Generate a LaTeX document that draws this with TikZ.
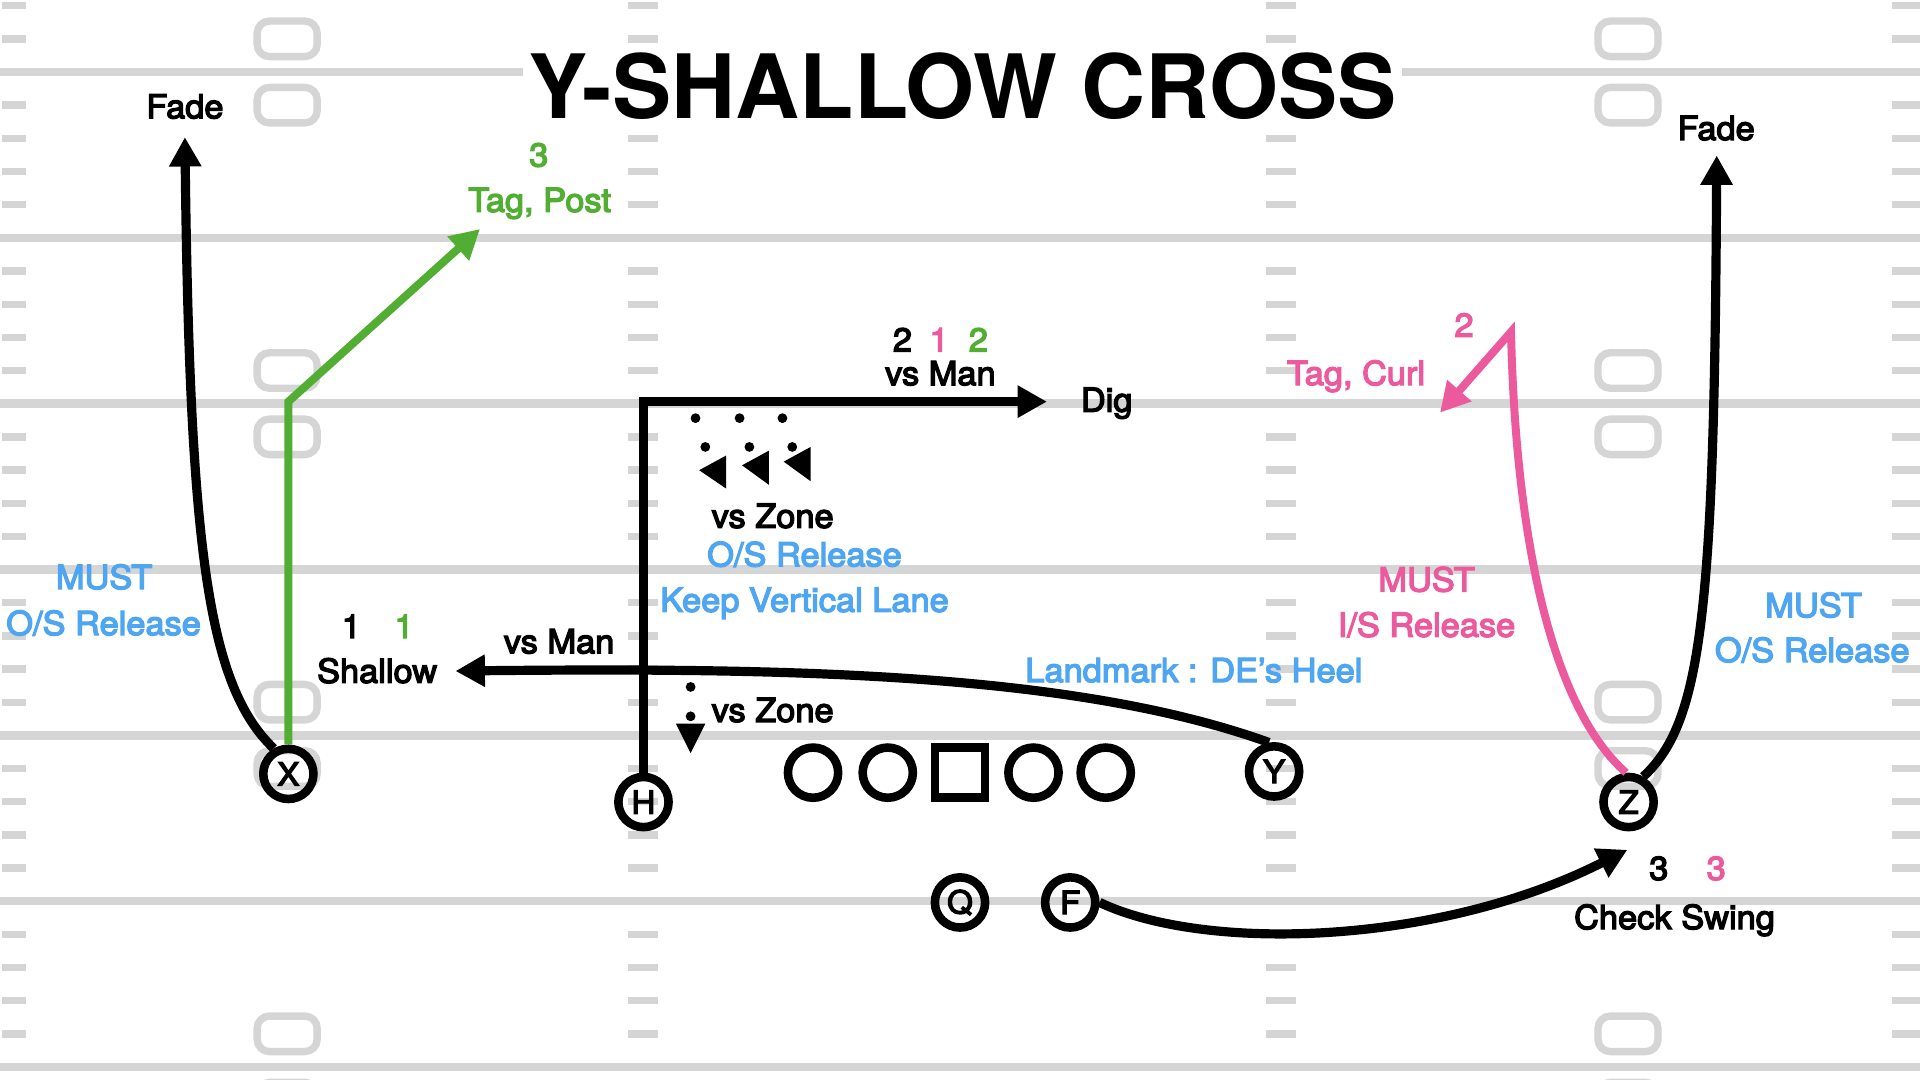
\documentclass[tikz,border=0pt]{standalone}
\usepackage{fontspec}
\setmainfont{TeX Gyre Heros}
\newfontfamily\lblfont{TeX Gyre Heros}[FakeBold=4,FakeStretch=1.04]
\usetikzlibrary{arrows.meta}
\definecolor{fieldgray}{HTML}{D5D5D5}
\definecolor{tagblue}{HTML}{4EA5F2}
\definecolor{taggreen}{HTML}{52AE32}
\definecolor{tagpink}{HTML}{EC5A9E}

\begin{document}
\begin{tikzpicture}[x=1pt,y=-1pt,
  route/.style={line width=7.5pt},
  tagroute/.style={line width=6.5pt},
  tip/.style={-{Triangle[length=24pt,width=25pt]}},
  player/.style={circle,draw,line width=7pt,minimum size=41pt,inner sep=0pt,font=\lblfont\fontsize{26}{26}\selectfont},
  center/.style={rectangle,draw,line width=7pt,minimum size=41pt,inner sep=0pt},
  lbl/.style={anchor=base,inner sep=0pt,font=\lblfont\fontsize{27}{27}\selectfont},
  numbox/.style={draw=fieldgray,line width=6pt,rounded corners=10pt,minimum width=49pt,minimum height=29pt},
  dot/.style={circle,fill,inner sep=0pt,minimum size=8pt}]
\clip (0,0) rectangle (1568,882);
\fill[white] (0,0) rectangle (1568,882);

\foreach \k in {0,...,6}
  \draw[fieldgray,line width=7pt] (0,58.8+135.43*\k) -- (1568,58.8+135.43*\k);
\foreach \k in {-1,...,6}
  \foreach \j in {1,...,4}
    \foreach \xa/\xb in {2/21,513/537,1034/1058,1545/1568}
      \fill[fieldgray] (\xa,55.8+135.43*\k+27.09*\j) rectangle (\xb,61.8+135.43*\k+27.09*\j);
\foreach \k in {0,...,3}
  \foreach \d in {-27.09,27.09}
    \foreach \x in {234.5,1329.5}
      \node[numbox] at (\x,58.8+270.86*\k+\d) {};

\node[fill=white,inner xsep=4pt,inner ysep=4pt,font=\bfseries\fontsize{72.5}{72.5}\selectfont] (title) at (786,70) {Y-SHALLOW CROSS};

\node[player] (X) at (235.5,632) {X};
\node[player] (H) at (525.5,655) {H};
\node[player] (LT) at (664,631) {};
\node[player] (LG) at (725,631) {};
\node[center] (C) at (784,631) {};
\node[player] (RG) at (844,631) {};
\node[player] (RT) at (903,631) {};
\node[player] (Y) at (1040.5,630) {Y};
\node[player] (Z) at (1330,655) {Z};
\node[player] (Q) at (784,737) {Q};
\node[player] (F) at (874,737) {F};

\coordinate (xfade) at (151,112);
\coordinate (xbreak) at (235.5,328);
\coordinate (xpost) at (392,187);
\coordinate (digend) at (855,328);
\coordinate (shallowend) at (372,548);
\coordinate (zfade) at (1402,127);
\coordinate (ztop) at (1234,271);
\coordinate (zcurl) at (1176,337);
\coordinate (swingend) at (1329,694);

\draw[route,tip] (X.120) .. controls (170,560) and (155,450) .. (xfade);
\draw[tagroute,tip,taggreen] (X.north) -- (xbreak) -- (xpost);
\draw[route,tip] (H.north) |- (digend);
\draw[route,tip] (Y.100) .. controls (880,550) and (650,545) .. (shallowend);
\draw[route,tip] (Z.60) .. controls (1390,590) and (1400,500) .. (zfade);
\draw[tagroute,tip,tagpink,line join=miter] (Z.95) .. controls (1270,580) and (1238,450) .. (ztop) -- (zcurl);
\draw[route,tip] (F.east) .. controls (985,778) and (1175,772) .. (swingend);

\foreach \x/\y in {568/341.5,604/341.5,639/341.5,576/365,612/365,647/365,564/561,564/585}
  \node[dot] at (\x,\y) {};
\fill (571,384) -- (593,372) -- (593,399) -- cycle;
\fill (606,380) -- (628,368) -- (628,396) -- cycle;
\fill (640,377) -- (662,365) -- (662,393) -- cycle;
\fill (552,591) -- (576,591) -- (564,615) -- cycle;

\node[lbl] (fadel) at (151,96.6) {Fade};
\node[lbl,taggreen] (postnum) at (440,136) {3};
\node[lbl,taggreen] (post) at (440.7,173) {Tag, Post};
\node[lbl] (fader) at (1401.5,114.3) {Fade};
\node[lbl] (dignuma) at (737,287) {2};
\node[lbl,tagpink] (dignumb) at (767,287) {1};
\node[lbl,taggreen] (dignumc) at (799,287) {2};
\node[lbl] (digman) at (768,314.5) {vs Man};
\node[lbl] (dig) at (903.8,336.2) {Dig};
\node[lbl] (digzone) at (631,431) {vs Zone};
\node[lbl,tagblue] (digos) at (657,462.5) {O/S Release};
\node[lbl,tagblue] (lane) at (657,499.6) {Keep Vertical Lane};
\node[lbl,tagblue] (xmust) at (85,481) {MUST};
\node[lbl,tagblue] (xos) at (84.6,518.6) {O/S Release};
\node[lbl] (shnuma) at (287,521) {1};
\node[lbl,taggreen] (shnumb) at (330,521) {1};
\node[lbl] (shallow) at (308,557.6) {Shallow};
\node[lbl] (shman) at (456.6,533.5) {vs Man};
\node[lbl,tagblue] (landmark) at (975,557) {Landmark : DE’s Heel};
\node[lbl] (shzone) at (631,589.5) {vs Zone};
\node[lbl,tagpink] (curlnum) at (1195.6,275) {2};
\node[lbl,tagpink] (curl) at (1107.5,314.4) {Tag, Curl};
\node[lbl,tagpink] (zmust) at (1165,483) {MUST};
\node[lbl,tagpink] (zis) at (1165,520) {I/S Release};
\node[lbl,tagblue] (zmustb) at (1481,504) {MUST};
\node[lbl,tagblue] (zos) at (1480,540.6) {O/S Release};
\node[lbl] (swnuma) at (1354.7,718.6) {3};
\node[lbl,tagpink] (swnumb) at (1401.6,718.6) {3};
\node[lbl] (swing) at (1367.5,758.7) {Check Swing};
\end{tikzpicture}
\end{document}
